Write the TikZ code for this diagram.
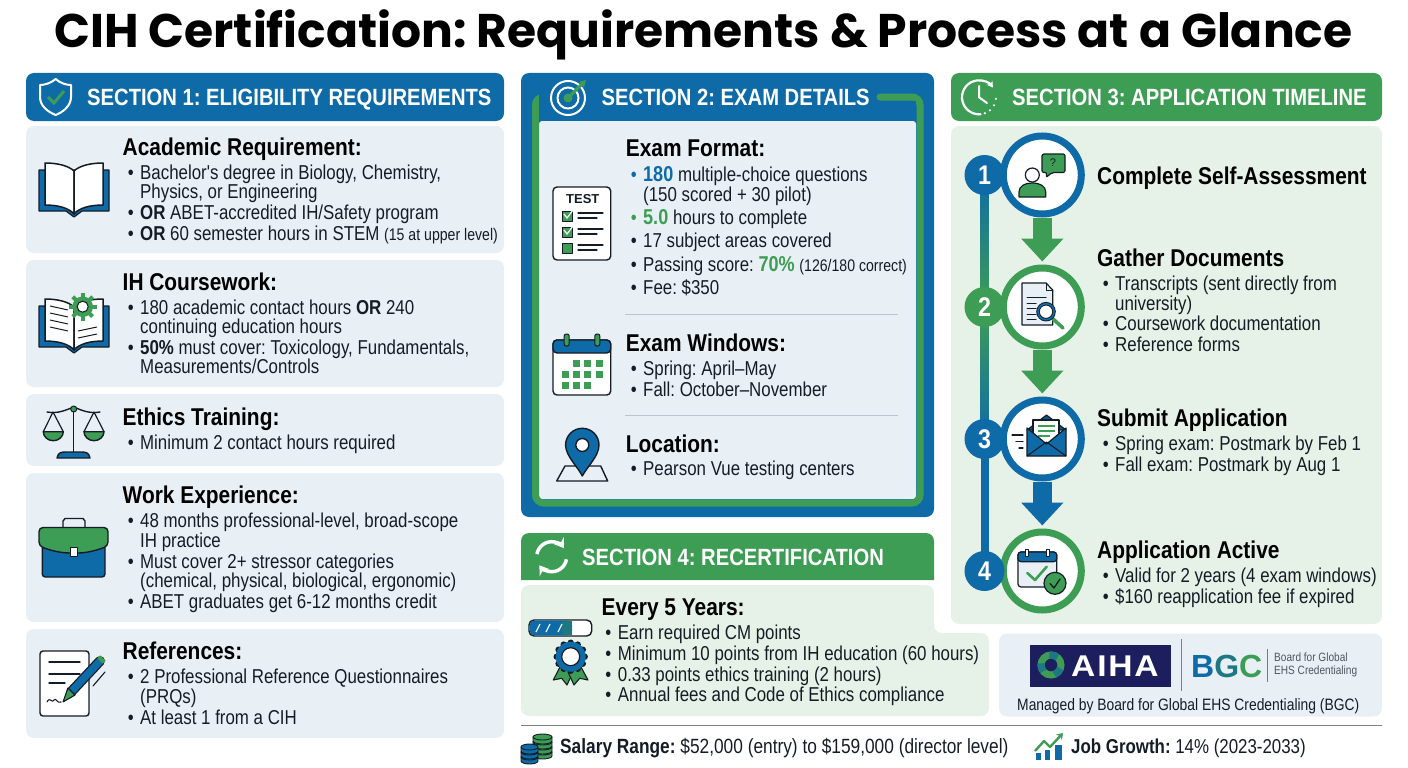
\documentclass[tikz,border=0pt]{standalone}
\usepackage{fontspec}
\usetikzlibrary{arrows.meta, calc}
\setmainfont{Liberation Sans}
\newfontfamily\bodyfont[FakeStretch = 0.84]{Liberation Sans}
\newfontfamily\headfont[FakeStretch = 0.86]{Liberation Sans}
\newfontfamily\logofont[FakeStretch = 1.12, LetterSpace = 6]{Liberation Sans}
\newfontfamily\titlefont{Poppins}
\frenchspacing
\definecolor{hblue}{RGB}{14, 107, 168}
\definecolor{hgreen}{RGB}{62, 157, 84}
\definecolor{cardblue}{RGB}{232, 240, 246}
\definecolor{cardgreen}{RGB}{230, 241, 231}
\definecolor{ink}{RGB}{20, 28, 38}
\definecolor{rulegray}{RGB}{190, 196, 204}
\definecolor{navy}{RGB}{28, 30, 94}
\definecolor{teal}{RGB}{30, 120, 130}
\newcommand{\bl}{\llap{\textbullet\hskip 6.5pt}}
\newcommand{\sm}{\fontsize{16.8}{18}\selectfont}
\newcommand{\bg}{\bfseries\fontsize{21.5}{22}\selectfont}
\tikzset{
  pics/openbook/.style = {code = {
    \draw [fill = hblue, draw = ink, line width = 1.2pt, line join = round] (-35, -47) -- (-35, -6) -- (-8, -6) -- (0, 0) -- (8, -6) -- (35, -6) -- (35, -47) -- cycle;
    \draw [fill = white, draw = ink, line width = 1.5pt, line join = round] (-29, -54) .. controls (-16, -54) and (-5, -51) .. (0, -46) -- (0, -3) .. controls (-5, -9) and (-16, -12) .. (-29, -12) -- cycle;
    \draw [fill = white, draw = ink, line width = 1.5pt, line join = round] (29, -54) .. controls (16, -54) and (5, -51) .. (0, -46) -- (0, -3) .. controls (5, -9) and (16, -12) .. (29, -12) -- cycle;
  }}
}
\begin{document}
\begin{tikzpicture}[x = 1pt, y = -1pt, every node/.style = { inner sep = 0pt, anchor = base west, text = ink },
  panel/.style = { rounded corners = 8pt },
  sechead/.style = { font = \headfont\bfseries\fontsize{23.5}{26}\selectfont, text = white },
  cardhead/.style = { font = \headfont\bfseries\fontsize{24.3}{26}\selectfont, text = black },
  item/.style = { font = \bodyfont\fontsize{20.1}{22}\selectfont },
  icon/.style = { draw = ink, line width = 1.4pt, line join = round, line cap = round },
  ring/.style = { circle, anchor = center, minimum size = 78pt, line width = 7pt, fill = white },
  badge/.style = { circle, anchor = center, minimum size = 40pt, text = white, font = \headfont\bfseries\fontsize{27}{27}\selectfont },
  tline/.style = { line width = 8pt },
  flow/.style = { line width = 19pt, shorten > = 3pt, -{Triangle[width = 41pt, length = 23pt]} }]
  \useasboundingbox (0, 0) rectangle (1408, 768);

  \node [font = \titlefont\bfseries\fontsize{47.2}{50}\selectfont, text = black] (title) at (54, 48) {CIH Certification: Requirements \& Process at a Glance};

  \fill [panel, hblue] (26, 73) rectangle (504, 121);
  \fill [panel, cardblue] (26, 126) rectangle (504, 253);
  \fill [panel, cardblue] (26, 260) rectangle (504, 387);
  \fill [panel, cardblue] (26, 394) rectangle (504, 466);
  \fill [panel, cardblue] (26, 473) rectangle (504, 622);
  \fill [panel, cardblue] (26, 629) rectangle (504, 738);
  \node [sechead] (secA) at (87, 106) {SECTION 1: ELIGIBILITY REQUIREMENTS};
  \draw [white, line width = 2pt, line join = round] (55.7, 79) .. controls (60, 83) and (66, 85) .. (71, 85) -- (71, 97) .. controls (71, 106) and (63, 112) .. (55.7, 115) .. controls (48, 112) and (40, 106) .. (40, 97) -- (40, 85) .. controls (45, 85) and (51, 83) .. (55.7, 79) -- cycle;
  \draw [hgreen, line width = 3pt] (48, 97) -- (54, 103) -- (64, 91);

  \pic at (74, 217) {openbook};
  \node [cardhead] (acad) at (122.5, 155) {Academic Requirement:};
  \node [item] (acadA) at (140, 179) {\bl Bachelor's degree in Biology, Chemistry,};
  \node [item] (acadB) at (140, 198) {Physics, or Engineering};
  \node [item] (acadC) at (140, 219) {\bl\textbf{OR} ABET-accredited IH/Safety program};
  \node [item] (acadD) at (140, 240) {\bl\textbf{OR} 60 semester hours in STEM {\sm(15 at upper level)}};

  \pic at (74, 353) {openbook};
  \foreach \y in {309, 316, 323, 330} \draw [ink, line width = 1pt] (50, \y - 3) -- (68, \y + 1);
  \foreach \y in {330, 337} \draw [ink, line width = 1pt] (78, \y + 1) -- (97, \y - 3);
  \foreach \a in {0, 45, ..., 315} \draw [hgreen, line width = 4pt] (82.7, 306.7) ++(\a:8) -- ++(\a:6);
  \draw [fill = hgreen, draw = hgreen] (82.7, 306.7) circle (10);
  \draw [fill = white, draw = ink, line width = 1pt] (82.7, 306.7) circle (5.5);
  \node [cardhead] (course) at (122.5, 290) {IH Coursework:};
  \node [item] (courseA) at (140, 314) {\bl 180 academic contact hours \textbf{OR} 240};
  \node [item] (courseB) at (140, 333) {continuing education hours};
  \node [item] (courseC) at (140, 354) {\bl\textbf{50\%} must cover: Toxicology, Fundamentals,};
  \node [item] (courseD) at (140, 373) {Measurements/Controls};

  \draw [icon] (73.7, 409) -- (73.7, 452);
  \draw [icon] (47, 412) .. controls (58, 414) and (66, 410) .. (73.7, 407) .. controls (81, 410) and (89, 414) .. (100, 412);
  \draw [icon, line width = 1.2pt] (43.3, 431.7) -- (53, 412) -- (63.3, 431.7);
  \draw [icon, line width = 1.2pt] (84, 431.7) -- (94, 412) -- (104, 431.7);
  \draw [icon, fill = hgreen] (43.3, 431.7) arc [start angle = 180, end angle = 0, radius = 10, y radius = 9] -- cycle;
  \draw [icon, fill = hgreen] (84, 431.7) arc [start angle = 180, end angle = 0, radius = 10, y radius = 9] -- cycle;
  \draw [icon, fill = hblue] (57, 458) .. controls (58, 452) and (62, 452) .. (66, 452) -- (81, 452) .. controls (85, 452) and (89, 452) .. (90, 458) -- cycle;
  \draw [icon, fill = hgreen, line width = 1pt] (73.7, 409) circle (3);
  \node [cardhead] (ethics) at (122.5, 425) {Ethics Training:};
  \node [item] (ethicsA) at (140, 449) {\bl Minimum 2 contact hours required};

  \draw [icon] (63, 527) -- (63, 521) -- (65, 518.5) -- (83, 518.5) -- (85, 521) -- (85, 527);
  \draw [icon, fill = hblue, rounded corners = 3pt] (42.3, 540) rectangle (105, 577);
  \draw [icon, fill = hgreen, rounded corners = 4pt] (39, 527.5) -- (108, 527.5) -- (108, 546) .. controls (95, 551) and (85, 553) .. (74, 553) .. controls (62, 553) and (52, 551) .. (39, 546) -- cycle;
  \draw [icon, fill = white, line width = 1pt] (70.7, 547) rectangle (77.7, 556.7);
  \node [cardhead] (work) at (122.5, 503) {Work Experience:};
  \node [item] (workA) at (140, 527) {\bl 48 months professional-level, broad-scope};
  \node [item] (workB) at (140, 547) {IH practice};
  \node [item] (workC) at (140, 568) {\bl Must cover 2+ stressor categories};
  \node [item] (workD) at (140, 587) {(chemical, physical, biological, ergonomic)};
  \node [item] (workE) at (140, 608) {\bl ABET graduates get 6-12 months credit};

  \draw [icon, fill = white, rounded corners = 3pt] (40, 651) rectangle (89, 716);
  \foreach \y/\e in {662/80, 674/80, 683/65} \draw [icon] (49, \y) -- (\e, \y);
  \draw [icon, line width = 1.1pt] (47, 702) .. controls (50, 696) and (52, 704) .. (54, 700) .. controls (56, 697) and (57, 704) .. (61, 702);
  \draw [icon, line width = 1.1pt] (93, 686) -- (105, 672);
  \draw [icon, line width = 10pt, ink] (71, 692) -- (100, 661);
  \draw [line width = 7.5pt, hblue] (71, 692) -- (100, 661);
  \draw [line width = 7.5pt, hgreen] (100, 661) -- (103, 658);
  \draw [icon, fill = hgreen, line width = 1.1pt] (68, 688) -- (75, 695) -- (63, 702) -- cycle;
  \node [cardhead] (refs) at (122.5, 659) {References:};
  \node [item] (refsA) at (140, 683) {\bl 2 Professional Reference Questionnaires};
  \node [item] (refsB) at (140, 703) {(PRQs)};
  \node [item] (refsC) at (140, 724) {\bl At least 1 from a CIH};

  \fill [panel, hblue] (521, 73) rectangle (934, 517);
  \fill [cardblue, rounded corners = 3pt] (539, 121) rectangle (916, 499);
  \draw [hgreen, line width = 7pt, line cap = round, rounded corners = 8pt] (880, 97) -- (920, 97) -- (920, 503) -- (535.5, 503) -- (535.5, 97) -- (543, 97);
  \fill [hblue] (539, 100.5) rectangle (916, 121);
  \fill [hblue] (539, 90) rectangle (876, 100.5);
  \node [sechead] (secB) at (601.5, 106) {SECTION 2: EXAM DETAILS};
  \foreach \r in {17, 10.5} \draw [white, line width = 2pt] (568, 98) circle (\r);
  \fill [hgreen] (568, 98) circle (4.5);
  \draw [hgreen, line width = 3pt, -{Stealth[length = 7pt, width = 8pt]}] (568, 98) -- (586, 80);

  \draw [icon, fill = white, rounded corners = 4pt] (553, 187) rectangle (610.7, 260);
  \node [font = \bfseries\fontsize{13}{14}\selectfont] (testlab) at (566, 203) {TEST};
  \foreach \y/\e in {211/603, 227/603, 243/603} {
    \draw [icon, line width = 1pt, fill = hgreen] (562, \y) rectangle (572.5, \y + 10);
    \draw [icon, line width = 1.2pt] (578, \y + 2) -- (\e, \y + 2);
    \draw [icon, line width = 1.2pt] (578, \y + 7) -- (597, \y + 7);
  }
  \foreach \y in {211, 227} \draw [white, line width = 1.2pt] (564, \y + 3) -- (567, \y + 7) -- (573, \y - 1);
  \node [cardhead] (format) at (625.7, 156) {Exam Format:};
  \node [item] (formatA) at (643, 181.7) {{\color{hblue}\bl}\textcolor{hblue}{\bg 180} multiple-choice questions};
  \node [item] (formatB) at (643, 201.7) {(150 scored + 30 pilot)};
  \node [item] (formatC) at (643, 224) {{\color{hgreen}\bl}\textcolor{hgreen}{\bg 5.0} hours to complete};
  \node [item] (formatD) at (643, 247.7) {\bl 17 subject areas covered};
  \node [item] (formatE) at (643, 271) {\bl Passing score: \textcolor{hgreen}{\bg 70\%} {\sm(126/180 correct)}};
  \node [item] (formatF) at (643, 294) {\bl Fee: \$350};
  \draw [rulegray, line width = 1pt] (625, 314) -- (898, 314);

  \draw [icon, fill = white, rounded corners = 4pt] (553, 340) rectangle (610.7, 395);
  \draw [icon, fill = hblue, rounded corners = 4pt] (553, 353) -- (553, 340) -- (610.7, 340) -- (610.7, 353) -- cycle;
  \foreach \x in {566.7, 597.3} \draw [icon, fill = hgreen, rounded corners = 2pt, line width = 1pt] (\x - 2.5, 334) rectangle (\x + 2.5, 346);
  \foreach \x/\y in {576/363, 587.7/363, 599/363, 565/374, 576/374, 587.7/374, 599/374, 565/385, 576/385, 587.7/385}
    \fill [hgreen] (\x - 3.5, \y - 3.5) rectangle (\x + 3.5, \y + 3.5);
  \node [cardhead] (windows) at (625.7, 351) {Exam Windows:};
  \node [item] (windowsA) at (643, 375.7) {\bl Spring: April–May};
  \node [item] (windowsB) at (643, 396.7) {\bl Fall: October–November};
  \draw [rulegray, line width = 1pt] (625, 415.7) -- (898, 415.7);

  \draw [icon] (565, 466) -- (556.7, 481) -- (607.7, 481) -- (600.7, 466) -- cycle;
  \draw [icon, fill = hblue] (582.3, 476) .. controls (578, 467) and (565.6, 456) .. (565.6, 445) arc [start angle = 180, end angle = 360, radius = 16.7] .. controls (599, 456) and (587, 467) .. (582.3, 476) -- cycle;
  \draw [icon, fill = white] (582.3, 445) circle (6.5);
  \node [cardhead] (place) at (625.7, 452) {Location:};
  \node [item] (placeA) at (643, 475.7) {\bl Pearson Vue testing centers};

  \fill [panel, hgreen] (951, 73) rectangle (1382, 121);
  \fill [panel, cardgreen] (951, 126) rectangle (1382, 624);
  \node [sechead] (secC) at (1012, 106) {SECTION 3: APPLICATION TIMELINE};
  \draw [white, line width = 2.2pt, line cap = round, -{Stealth[length = 6pt, width = 7pt]}] (979, 97.3) ++(85:17) arc [start angle = 85, end angle = 325, radius = 17];
  \foreach \a in {5, 28, 50, 70} \fill [white] (979, 97.3) ++(\a:17) circle (1.2);
  \draw [white, line width = 2pt, line cap = round, line join = round] (979, 86) -- (979, 97.3) -- (987, 103);

  \coordinate (tA) at (984.5, 175);
  \coordinate (tB) at (984.5, 307);
  \coordinate (tC) at (984.5, 439);
  \coordinate (tD) at (984.5, 571);
  \shade [top color = hblue, middle color = hblue, bottom color = hgreen] ($(tA) + (-4, 0)$) rectangle ($(tB) + (4, 0)$);
  \shade [top color = hgreen, middle color = hgreen, bottom color = hblue] ($(tB) + (-4, 0)$) rectangle ($(tC) + (4, 0)$);
  \draw [tline, hblue] (tC) -- (tD);

  \node [ring, draw = hblue] (stepA) at (1042.3, 175) {};
  \node [ring, draw = hgreen] (stepB) at (1042.3, 307) {};
  \node [ring, draw = hblue] (stepC) at (1042.3, 439) {};
  \node [ring, draw = hgreen] (stepD) at (1042.3, 571) {};
  \draw [flow, hgreen] (stepA) -- (stepB);
  \draw [flow, hgreen] (stepB) -- (stepC);
  \draw [flow, hblue] (stepC) -- (stepD);
  \node [badge, fill = hblue] (numA) at (tA) {1};
  \node [badge, fill = hgreen] (numB) at (tB) {2};
  \node [badge, fill = hblue] (numC) at (tC) {3};
  \node [badge, fill = hblue] (numD) at (tD) {4};

  \draw [icon, line width = 1.2pt] (1032.3, 175) circle (7);
  \draw [icon, line width = 1.2pt, fill = hgreen] (1019, 197) -- (1019, 192) .. controls (1019, 186) and (1025, 183) .. (1032, 183) .. controls (1040, 183) and (1045.7, 186) .. (1045.7, 192) -- (1045.7, 197) -- cycle;
  \draw [icon, line width = 1.2pt, fill = hgreen, rounded corners = 2pt] (1042, 154) -- (1065, 154) -- (1065, 172.5) -- (1052, 172.5) -- (1046, 177.5) -- (1047, 172.5) -- (1042, 172.5) -- cycle;
  \node [font = \fontsize{11}{11}\selectfont, anchor = center] (qmark) at (1053, 163) {?};
  \node [cardhead] (stepAtext) at (1097, 184) {Complete Self-Assessment};

  \draw [icon, line width = 1.2pt, fill = cardblue] (1022, 283) -- (1046, 283) -- (1052.7, 290) -- (1052.7, 325) -- (1022, 325) -- cycle;
  \draw [icon, line width = 1pt] (1046, 283) -- (1046, 290) -- (1052.7, 290);
  \draw [icon, line width = 1pt] (1027, 297) -- (1046, 297);
  \foreach \y in {303, 308, 314, 319} \draw [icon, line width = 1pt] (1027, \y) -- (1036, \y);
  \draw [hgreen, line width = 3.5pt, line cap = round] (1052, 318) -- (1063, 328);
  \draw [ink, line width = 3.5pt, fill = white] (1046, 311.7) circle (8);
  \draw [hblue, line width = 1.6pt] (1046, 311.7) circle (8);
  \node [cardhead] (stepBtext) at (1097, 266.7) {Gather Documents};
  \node [item] (stepBa) at (1115, 290.7) {\bl Transcripts (sent directly from};
  \node [item] (stepBb) at (1115, 310) {university)};
  \node [item] (stepBc) at (1115, 330.7) {\bl Coursework documentation};
  \node [item] (stepBd) at (1115, 351.7) {\bl Reference forms};

  \draw [icon, line width = 1.1pt, fill = hblue!80!black] (1027, 430) -- (1046.5, 415) -- (1066, 430) -- cycle;
  \draw [icon, line width = 1.1pt, fill = white] (1033, 420) rectangle (1059, 445);
  \foreach \y/\e in {426/1055, 431/1055, 436/1050} \draw [hgreen, line width = 1.2pt] (1038, \y) -- (\e, \y);
  \draw [icon, line width = 1.2pt, fill = hblue] (1027, 428) -- (1046.5, 444) -- (1066, 428) -- (1066, 456) -- (1027, 456) -- cycle;
  \draw [icon, line width = 1.1pt] (1027, 456) -- (1046.5, 442) -- (1066, 456);
  \foreach \y/\s in {435/1012, 441.7/1016, 448/1019} \draw [icon, line width = 1.1pt] (\s, \y) -- (1023, \y);
  \node [cardhead] (stepCtext) at (1097, 426) {Submit Application};
  \node [item] (stepCa) at (1115, 450) {\bl Spring exam: Postmark by Feb 1};
  \node [item] (stepCb) at (1115, 471) {\bl Fall exam: Postmark by Aug 1};

  \draw [icon, line width = 1.2pt, fill = cardblue, rounded corners = 3pt] (1018, 552) rectangle (1056.7, 587);
  \draw [icon, line width = 1.2pt, fill = hblue, rounded corners = 3pt] (1018, 561.7) -- (1018, 552) -- (1056.7, 552) -- (1056.7, 561.7) -- cycle;
  \foreach \x in {1027, 1048} \draw [icon, line width = 1pt, fill = white] (\x - 1.5, 549) rectangle (\x + 1.5, 556.7);
  \draw [hgreen, line width = 2.6pt, line cap = round, line join = round] (1027.3, 573) -- (1035, 580) -- (1046.7, 566.7);
  \draw [icon, line width = 1.2pt, fill = hgreen] (1055, 583.3) circle (11);
  \draw [icon, line width = 1.3pt] (1050, 583.5) -- (1054, 588) -- (1060, 579);
  \node [cardhead] (stepDtext) at (1097, 558) {Application Active};
  \node [item] (stepDa) at (1115, 582) {\bl Valid for 2 years (4 exam windows)};
  \node [item] (stepDb) at (1115, 603) {\bl \$160 reapplication fee if expired};

  \fill [hgreen] (521, 541) [rounded corners = 8pt] -- (521, 533) -- (934, 533) [sharp corners] -- (934, 580) -- (521, 580) -- cycle;
  \fill [cardgreen, rounded corners = 8pt] (521, 585) -- (934, 585) -- (934, 633) -- (989, 633) -- (989, 716) -- (521, 716) -- cycle;
  \node [sechead] (secD) at (582, 565) {SECTION 4: RECERTIFICATION};
  \draw [white, line width = 3.5pt, -{Stealth[length = 9pt, width = 12pt]}] (551.7, 556.7) ++(190:15) arc [start angle = 190, end angle = 325, radius = 15];
  \draw [white, line width = 3.5pt, -{Stealth[length = 9pt, width = 12pt]}] (551.7, 556.7) ++(10:15) arc [start angle = 10, end angle = 145, radius = 15];

  \draw [icon, fill = white, rounded corners = 5pt] (529, 620) rectangle (591.7, 636);
  \fill [hblue, rounded corners = 4.5pt] (529.7, 620.7) rectangle (572, 635.3);
  \fill [teal] (562, 620.7) rectangle (572, 635.3);
  \foreach \x in {538, 548, 560} \draw [cardblue, line width = 1.2pt] (\x - 2, 632) -- (\x + 2, 624);
  \draw [icon, line width = 1.1pt, fill = hgreen] (560, 667) -- (553.3, 680) -- (561.7, 678.3) -- (567, 685) -- (573, 672) -- cycle;
  \draw [icon, line width = 1.1pt, fill = hgreen] (581, 667) -- (588, 680) -- (579.7, 678.3) -- (574, 685) -- (568, 672) -- cycle;
  \foreach \a in {0, 30, ..., 330} \fill [ink] (570.7, 656.7) ++(\a:14) circle (3.2);
  \fill [hblue] (570.7, 656.7) circle (15);
  \draw [ink, line width = 1.2pt, fill = white] (570.7, 656.7) circle (9);
  \node [cardhead] (every) at (601.5, 615.7) {Every 5 Years:};
  \node [item] (everyA) at (617.7, 639.3) {\bl Earn required CM points};
  \node [item] (everyB) at (617.7, 660) {\bl Minimum 10 points from IH education (60 hours)};
  \node [item] (everyC) at (617.7, 681.7) {\bl 0.33 points ethics training (2 hours)};
  \node [item] (everyD) at (617.7, 701.7) {\bl Annual fees and Code of Ethics compliance};

  \fill [panel, cardblue] (999, 633.5) rectangle (1382, 716.5);
  \fill [navy] (1029.5, 644.5) rectangle (1170.7, 686.7);
  \draw [hgreen, line width = 7pt] (1051, 665) circle (10);
  \foreach \a in {20, 140, 260} \draw [teal, line width = 7pt] (1051, 665) ++(\a:10) arc [start angle = \a, end angle = \a + 50, radius = 10];
  \node [font = \logofont\bfseries\fontsize{30}{30}\selectfont, text = white] (aiha) at (1071, 676) {AIHA};
  \draw [gray, line width = 1pt] (1181, 639) -- (1181, 690.7);
  \node [font = \bfseries\fontsize{32}{33}\selectfont] (bgc) at (1191, 677) {\textcolor{hblue}{B}\textcolor{teal}{G}\textcolor{hgreen}{C}};
  \draw [hgreen!70!gray, line width = 1pt] (1267.7, 649) -- (1267.7, 681.7);
  \node [font = \bodyfont\fontsize{12}{12.6}\selectfont, text = ink!75, align = left, anchor = west] (board) at (1274, 665) {Board for Global\\EHS Credentialing};
  \node [font = \bodyfont\fontsize{16.5}{18}\selectfont] (managed) at (1017, 710) {Managed by Board for Global EHS Credentialing (BGC)};

  \draw [gray, line width = 1pt] (521, 725) -- (1382, 725);
  \foreach \y in {752, 747, 742, 737} {
    \draw [icon, line width = .9pt, fill = hgreen] (533, \y) -- (533, \y + 4) arc [start angle = 180, end angle = 0, x radius = 9.5, y radius = 3] -- (552, \y) -- cycle;
    \draw [icon, line width = .9pt, fill = hgreen] (542.5, \y) ellipse [x radius = 9.5, y radius = 3];
  }
  \foreach \y in {757, 752, 747} {
    \draw [icon, line width = .9pt, fill = hblue] (521, \y) -- (521, \y + 4) arc [start angle = 180, end angle = 0, x radius = 8.5, y radius = 3] -- (538, \y) -- cycle;
    \draw [icon, line width = .9pt, fill = hblue] (529.5, \y) ellipse [x radius = 8.5, y radius = 3];
  }
  \node [item, font = \bodyfont\fontsize{20.6}{22}\selectfont] (salary) at (560, 753.3) {\textbf{Salary Range:} \$52,000 (entry) to \$159,000 (director level)};
  \fill [hblue] (1036, 753) rectangle (1041, 760);
  \fill [hblue] (1045, 750) rectangle (1050, 760);
  \fill [hblue] (1055, 745) rectangle (1062, 760);
  \draw [hgreen, line width = 2.4pt, line join = round, -{Stealth[length = 6pt, width = 8pt]}] (1035, 751) -- (1044, 741) -- (1050, 747) -- (1063, 733);
  \node [item] (growth) at (1071, 753.3) {\textbf{Job Growth:} 14\% (2023-2033)};
\end{tikzpicture}
\end{document}
